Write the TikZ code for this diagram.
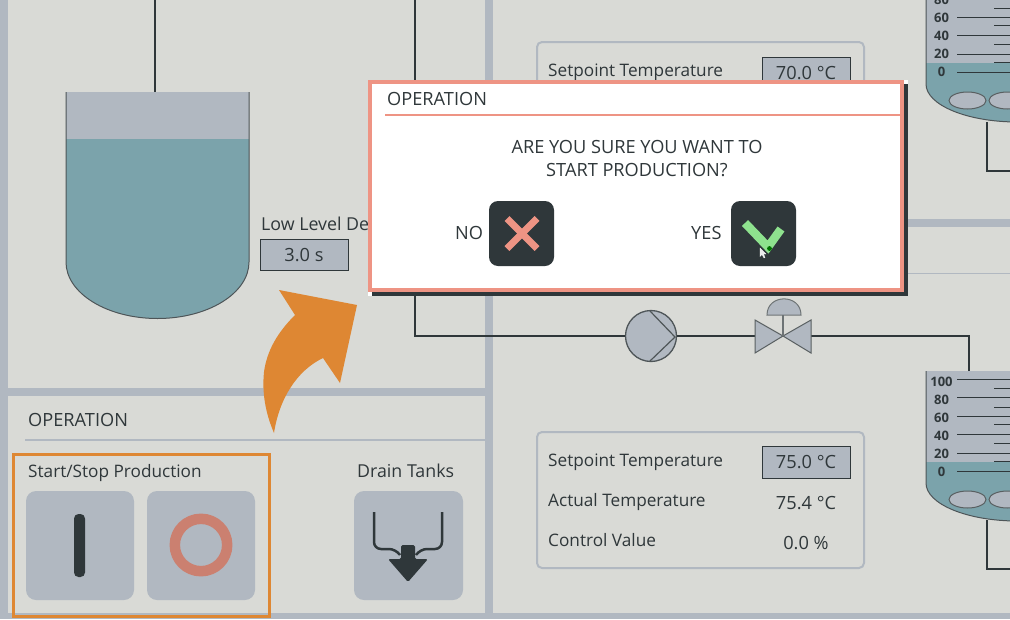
\documentclass[tikz,border=0pt]{standalone}
\usepackage{fontspec}
\setmainfont{Open Sans}
\definecolor{bgc}{HTML}{D9DAD6}
\definecolor{barc}{HTML}{B1B8C1}
\definecolor{darkc}{HTML}{2F373A}
\definecolor{tealc}{HTML}{7BA3AB}
\definecolor{salm}{HTML}{EE9484}
\definecolor{ringc}{HTML}{CB8070}
\definecolor{orng}{HTML}{DE8733}
\definecolor{okc}{HTML}{8EE28E}
\tikzset{
  bar/.style={fill=barc,draw=none},
  pipe/.style={draw=darkc,line width=2.2pt},
  txt/.style={text=darkc,font=\fontsize{17.2}{20}\selectfont,inner sep=0pt,anchor=base west},
  captxt/.style={text=darkc,font=\fontsize{18.2}{20}\selectfont,inner sep=0pt,anchor=base west},
  val/.style={text=darkc,font=\fontsize{18.2}{20}\selectfont,inner sep=0pt,anchor=base},
  scl/.style={text=darkc,font=\fontsize{13}{15}\selectfont\bfseries,inner sep=0pt,anchor=center},
  tickline/.style={draw=darkc,line width=1pt},
  boxval/.style={fill=barc,draw=darkc,line width=1pt},
  panelbox/.style={draw=barc,line width=2pt,rounded corners=5pt},
  softbtn/.style={fill=barc,rounded corners=10pt},
  darkbtn/.style={fill=darkc,rounded corners=9pt},
  vessel/.pic={
    \fill[barc] (926,371) -- (926,483) arc[start angle=180,end angle=360,x radius=91.5pt,y radius=38pt] -- (1109,371) -- cycle;
    \fill[tealc] (926,462) -- (926,483) arc[start angle=180,end angle=360,x radius=91.5pt,y radius=38pt] -- (1109,462) -- cycle;
    \draw[draw=darkc!85,line width=1pt] (926,371) -- (926,483) arc[start angle=180,end angle=360,x radius=91.5pt,y radius=38pt];
    \foreach \yy in {379,397,416,434,453,471}{\draw[tickline] (957,\yy) -- (1010,\yy);}
    \foreach \yy in {388,407,424,443,461}{\draw[tickline] (994,\yy) -- (1010,\yy);}
    \foreach \xx in {967.5,1007.5}{
      \draw[fill=barc,draw=darkc!80,line width=1pt] (\xx,499.5) ellipse[x radius=18.5pt,y radius=8.5pt];
    }
  }
}
\begin{document}
\begin{tikzpicture}[x=1pt,y=-1pt]
\useasboundingbox (0,0) rectangle (1010,619);
\begin{scope}
\clip (0,0) rectangle (1010,619);
\fill[bgc] (0,0) rectangle (1010,619);
% frame bars
\fill[bar] (0,0) rectangle (8,619);
\fill[bar] (485,0) rectangle (493,619);
\fill[bar] (8,388) rectangle (485,396);
\fill[bar] (0,613) rectangle (1010,619);
\fill[bar] (493,219) rectangle (1010,227);
\draw[barc,line width=1pt] (905,273) -- (1010,273);

% left tank
\fill[barc] (66,92) -- (66,262) arc[start angle=180,end angle=360,x radius=91.5pt,y radius=56.5pt] -- (249,92) -- cycle;
\fill[tealc] (66,139) -- (66,262) arc[start angle=180,end angle=360,x radius=91.5pt,y radius=56.5pt] -- (249,139) -- cycle;
\draw[draw=darkc!85,line width=1pt] (66,92) -- (66,262) arc[start angle=180,end angle=360,x radius=91.5pt,y radius=56.5pt] -- (249,92);
\coordinate (tankin) at (155,92);
\coordinate (tanktop) at (155,0);
\draw[pipe] (tanktop) -- (tankin);

% pipes
\coordinate (riserTop) at (415,0);
\coordinate (riserCorner) at (415,336);
\coordinate (pipeCorner) at (969,336);
\coordinate (lowerIn) at (969,372);
\node[circle,draw=darkc!85,fill=barc,line width=1.3pt,minimum size=51pt,inner sep=0pt] (pump) at (651,336) {};
\coordinate (valveC) at (783,336);
\coordinate (valveL) at (755,336);
\coordinate (valveR) at (811,336);
\draw[pipe] (riserTop) -- (riserCorner) -- (pump.west);
\draw[pipe] (pump.east) -- (valveL);
\draw[pipe] (valveR) -- (pipeCorner) -- (lowerIn);
\draw[darkc!85,line width=1.2pt] (650,311) -- (675,337) -- (650,361);
% valve
\draw[fill=barc,draw=darkc!80,line width=1pt] (755,320) -- (valveC) -- (755,353) -- cycle;
\draw[fill=barc,draw=darkc!80,line width=1pt] (811,320) -- (valveC) -- (811,353) -- cycle;
\draw[darkc!70,line width=1.5pt] (valveC) -- (783,315);
\draw[fill=barc,draw=darkc!70,line width=1pt] (767,315) .. controls (767,293.5) and (801,293.5) .. (801,315) -- cycle;

% right vessels
\pic at (0,0) {vessel};
\pic at (0,-399) {vessel};
\foreach \yy/\lab in {382/100,400/80,417.5/60,436/40,453.5/20,472/0}{\node[scl] at (941.5,\yy) {\lab};}
\foreach \yy/\lab in {0/80,18/60,36/40,54/20,72/0}{\node[scl] at (941.5,\yy) {\lab};}
\coordinate (upperOut) at (987,122);
\coordinate (upperBend) at (987,171);
\coordinate (upperEnd) at (1010,171);
\coordinate (lowerOut) at (987,520);
\coordinate (lowerBend) at (987,569);
\coordinate (lowerEnd) at (1010,569);
\draw[pipe] (upperOut) -- (upperBend) -- (upperEnd);
\draw[pipe] (lowerOut) -- (lowerBend) -- (lowerEnd);

% upper data panel
\draw[panelbox] (537,42) rectangle (864,160);
\node[txt] (spa) at (548,76) {Setpoint Temperature};
\draw[boxval] (762,57) rectangle (850,90);
\node[val] (spaval) at (806,79) {70.0 °C};

% lower data panel
\draw[panelbox] (537,432) rectangle (864,568);
\node[txt] (spb) at (548,466) {Setpoint Temperature};
\draw[boxval] (762,446) rectangle (850,478);
\node[val] (spbval) at (806,468) {75.0 °C};
\node[txt] (atb) at (548,506) {Actual Temperature};
\node[val] (atbval) at (806,509) {75.4 °C};
\node[txt] (cvb) at (548,546) {Control Value};
\node[val] (cvbval) at (806,549) {0.0 \%};

% low level delay
\node[txt,font=\fontsize{17.8}{20}\selectfont] (lld) at (261,230) {Low Level De};
\draw[boxval] (260,239) rectangle (348,270);
\node[val] (lldval) at (304,261) {3.0 s};

% operation panel
\node[captxt] (opl) at (28,426) {OPERATION};
\draw[barc,line width=1.5pt] (25,440) -- (485,440);
\node[txt] (ssl) at (28,477) {Start/Stop Production};
\node[txt,font=\fontsize{17.8}{20}\selectfont] (dtl) at (357,477) {Drain Tanks};
\fill[softbtn] (26,491) rectangle (134,600);
\fill[softbtn] (147,491) rectangle (255,600);
\fill[softbtn] (354,491) rectangle (463,600);
\fill[darkc,rounded corners=4.5pt] (74,514) rectangle (85,577);
\draw[ringc,line width=10.5pt] (201,545) circle (26.2pt);
\draw[darkc,line width=2.5pt,rounded corners=7pt] (374,512) -- (374,549) -- (396,549) -- (400,555);
\draw[darkc,line width=2.5pt,rounded corners=7pt] (442,512) -- (442,549) -- (420,549) -- (416,555);
\fill[darkc,rounded corners=1.5pt] (401,545) -- (415,545) -- (415,559) -- (428,559) -- (408,582) -- (388,559) -- (401,559) -- cycle;
\draw[orng,line width=3pt] (13.5,454.5) rectangle (269,616);

% orange callout arrow
\fill[orng] (279,290) -- (357,305) -- (340,383) -- (323,358)
  .. controls (296,371) and (279,400) .. (274,433)
  .. controls (265,412) and (262,392) .. (264,372)
  .. controls (267,350) and (278,332) .. (295,315) -- cycle;

% dialog
\fill[white] (368,80) rectangle (908,296);
\fill[darkc] (372,84) rectangle (908,296);
\draw[draw=salm,fill=white,line width=4pt] (370,82) rectangle (902,290);
\node[captxt] (dlgt) at (387,105) {OPERATION};
\draw[salm,line width=2pt] (385,114.5) -- (901,114.5);
\node[val] (dlgqa) at (637,153) {ARE YOU SURE YOU WANT TO};
\node[val] (dlgqb) at (637,176) {START PRODUCTION?};
\node[captxt] (nol) at (455,239) {NO};
\node[captxt] (yesl) at (691,239) {YES};
\fill[darkbtn] (489,201) rectangle (554,266);
\fill[darkbtn] (731,201) rectangle (796,266);
\draw[salm,line width=7pt] (507,218.5) -- (537,248.5);
\draw[salm,line width=7pt] (537,218.5) -- (507,248.5);
\draw[okc,line width=8.5pt,line join=miter] (745,223) -- (768,247) -- (781,229);
\fill[green!45!black] (769.5,248.5) circle (2.4pt);
\fill[darkc!10,draw=white,line width=.3pt] (760,248) -- (760,256.5) -- (762,254.5) -- (764,258) -- (765,257.5) -- (763.5,254) -- (766,254) -- cycle;
\end{scope}
\end{tikzpicture}
\end{document}
